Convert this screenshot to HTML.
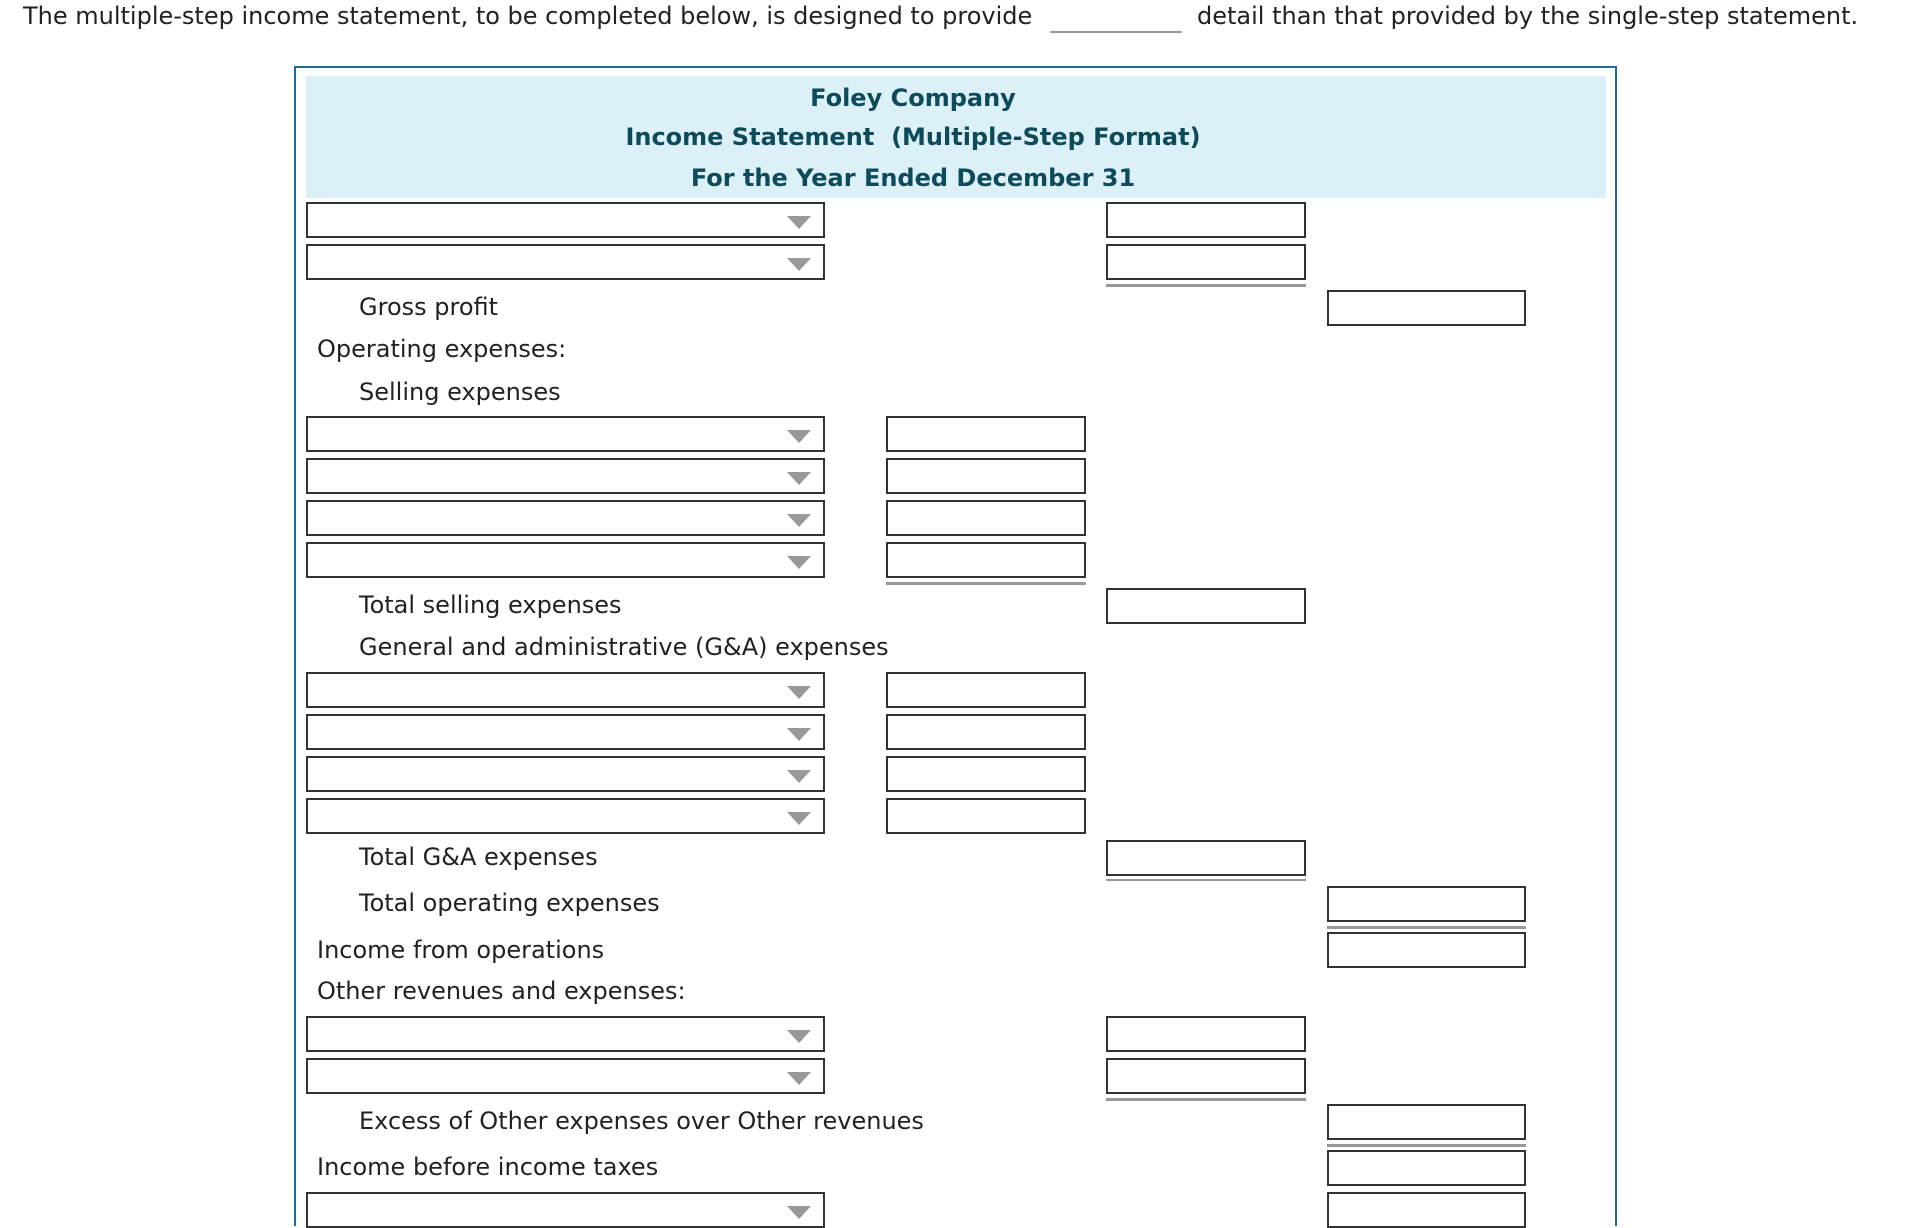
<!DOCTYPE html>
<html><head><meta charset="utf-8"><style>
body{margin:0;width:1920px;height:1208px;overflow:hidden;background:#fff;font-family:"DejaVu Sans","Liberation Sans",sans-serif;color:#222;position:relative}
.a{position:absolute}
.t{position:absolute;font-size:24px;line-height:28px;white-space:nowrap}
.bx{position:absolute;box-sizing:border-box;border:2px solid #333;height:36px;background:#fff}
.dd{left:306px;width:519px}
.dd:after{content:"";position:absolute;right:12px;top:12px;border-left:12px solid transparent;border-right:12px solid transparent;border-top:13px solid #999}
.c2{left:886px;width:200px}
.c3{left:1106px;width:200px}
.c4{left:1327px;width:199px}
.ul{position:absolute;height:3px;background:#999}
.h{position:absolute;left:306px;width:1214px;text-align:center;font-weight:bold;color:#0d4a5a;font-size:24px;line-height:28px}
</style></head><body>
<div class="t" style="left:23px;top:2px">The multiple-step income statement, to be completed below, is designed to provide</div>
<div class="ul" style="left:1050px;top:31px;width:132px;height:2px"></div>
<div class="t" style="left:1197px;top:2px">detail than that provided by the single-step statement.</div>

<div class="a" style="left:294px;top:66px;width:1323px;height:1160px;box-sizing:border-box;border:2px solid #1f6b9a;border-bottom:none"></div>
<div class="a" style="left:306px;top:76px;width:1300px;height:122px;background:#dcf0f8"></div>
<div class="h" style="top:84px">Foley Company</div>
<div class="h" style="top:123px">Income Statement&nbsp; (Multiple-Step Format)</div>
<div class="h" style="top:164px">For the Year Ended December 31</div>

<div class="bx dd" style="top:202px"></div><div class="bx c3" style="top:202px"></div>
<div class="bx dd" style="top:244px"></div><div class="bx c3" style="top:244px"></div>
<div class="ul" style="left:1106px;top:284px;width:200px"></div>
<div class="t" style="left:359px;top:293px">Gross profit</div><div class="bx c4" style="top:290px"></div>
<div class="t" style="left:317px;top:335px">Operating expenses:</div>
<div class="t" style="left:359px;top:378px">Selling expenses</div>

<div class="bx dd" style="top:416px"></div><div class="bx c2" style="top:416px"></div>
<div class="bx dd" style="top:458px"></div><div class="bx c2" style="top:458px"></div>
<div class="bx dd" style="top:500px"></div><div class="bx c2" style="top:500px"></div>
<div class="bx dd" style="top:542px"></div><div class="bx c2" style="top:542px"></div>
<div class="ul" style="left:886px;top:582px;width:200px"></div>
<div class="t" style="left:359px;top:591px">Total selling expenses</div><div class="bx c3" style="top:588px"></div>
<div class="t" style="left:359px;top:633px">General and administrative (G&amp;A) expenses</div>

<div class="bx dd" style="top:672px"></div><div class="bx c2" style="top:672px"></div>
<div class="bx dd" style="top:714px"></div><div class="bx c2" style="top:714px"></div>
<div class="bx dd" style="top:756px"></div><div class="bx c2" style="top:756px"></div>
<div class="bx dd" style="top:798px"></div><div class="bx c2" style="top:798px"></div>
<div class="t" style="left:359px;top:843px">Total G&amp;A expenses</div><div class="bx c3" style="top:840px"></div>
<div class="ul" style="left:1106px;top:879px;width:200px;height:2px"></div>
<div class="t" style="left:359px;top:889px">Total operating expenses</div><div class="bx c4" style="top:886px"></div>
<div class="ul" style="left:1327px;top:926px;width:199px"></div>
<div class="t" style="left:317px;top:936px">Income from operations</div><div class="bx c4" style="top:932px"></div>
<div class="t" style="left:317px;top:977px">Other revenues and expenses:</div>

<div class="bx dd" style="top:1016px"></div><div class="bx c3" style="top:1016px"></div>
<div class="bx dd" style="top:1058px"></div><div class="bx c3" style="top:1058px"></div>
<div class="ul" style="left:1106px;top:1098px;width:200px"></div>
<div class="t" style="left:359px;top:1107px">Excess of Other expenses over Other revenues</div><div class="bx c4" style="top:1104px"></div>
<div class="ul" style="left:1327px;top:1144px;width:199px"></div>
<div class="t" style="left:317px;top:1153px">Income before income taxes</div><div class="bx c4" style="top:1150px"></div>
<div class="bx dd" style="top:1192px"></div><div class="bx c4" style="top:1192px"></div>
</body></html>
